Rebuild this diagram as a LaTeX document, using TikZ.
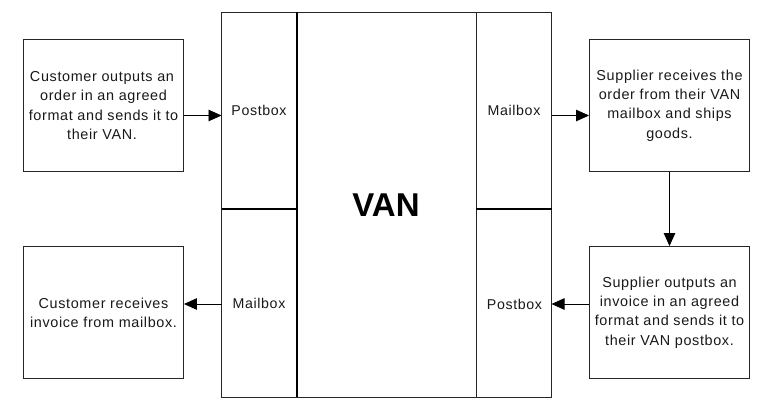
\documentclass[tikz,border=0pt]{standalone}
\usepackage{fontspec}
\setmainfont{Liberation Sans}
\newfontfamily\labelfont[LetterSpace=4.5]{Liberation Sans}
\usetikzlibrary{arrows.meta}
\tikzset{
  px/.style={x=1pt,y=-1pt},
  box/.style={draw=black!85,line width=0.9pt,fill=white,align=center,font=\labelfont\fontsize{14.4}{19.3}\selectfont,inner sep=0pt,text=black!90},
  lbl/.style={font=\labelfont\fontsize{14.2}{17}\selectfont,inner sep=0pt,text=black!90},
  conn/.style={draw=black,line width=0.9pt,-{Triangle[length=13pt,width=11.5pt]}},
  heavy/.style={line width=2pt},
}
\begin{document}
\begin{tikzpicture}[px]
\useasboundingbox (0,0) rectangle (771,408);
\fill[white] (0,0) rectangle (771,408);
\node[box,minimum width=160pt,minimum height=132pt] (c1) at (103.5,105.5) {Customer outputs an\hspace*{3pt}\\order in an agreed\hspace*{3pt}\\format and sends it to\hspace*{3pt}\\their VAN.\hspace*{3pt}};
\node[box,minimum width=160pt,minimum height=132pt] (c2) at (103.5,312.5) {Customer receives\\invoice from mailbox.};
\node[box,minimum width=160pt,minimum height=132pt] (s1) at (669.5,105.5) {Supplier receives the\\order from their VAN\\mailbox and ships\\goods.};
\node[box,minimum width=160pt,minimum height=132pt] (s2) at (669.5,312.5) {Supplier outputs an\\invoice in an agreed\\format and sends it to\\their VAN postbox.};
\draw[line width=0.9pt,draw=black!85] (221.5,12) rectangle (551.5,397);
\coordinate (tl) at (297,12); \coordinate (bl) at (297,397);
\coordinate (tr) at (476,12); \coordinate (br) at (476,397);
\draw[heavy] (tl) -- (bl);
\draw[line width=0.9pt,draw=black!85] (tr) -- (br);
\coordinate (ml) at (221.5,209); \coordinate (mlr) at (297,209);
\coordinate (mr) at (476,209); \coordinate (mrr) at (551.5,209);
\draw[heavy] (ml) -- (mlr);
\draw[heavy] (mr) -- (mrr);
\node[lbl] (p1) at (259,110.5) {Postbox};
\node[lbl] (m1) at (259,303.5) {Mailbox};
\node[lbl] (m2) at (514,110.5) {Mailbox};
\node[lbl] (p2) at (514.5,304.5) {Postbox};
\node[font=\bfseries\fontsize{33}{38}\selectfont,inner sep=0pt] (van) at (386,205) {VAN};
\coordinate (a1) at (221.5,115.5); \coordinate (a2) at (221.5,304);
\coordinate (a3) at (551.5,115.5); \coordinate (a4) at (551.5,304);
\draw[conn] (c1.east |- a1) -- (a1);
\draw[conn] (a2) -- (c2.east |- a2);
\draw[conn] (a3) -- (s1.west |- a3);
\draw[conn] (s2.west |- a4) -- (a4);
\draw[conn] (s1.south) -- (s2.north);
\end{tikzpicture}
\end{document}
